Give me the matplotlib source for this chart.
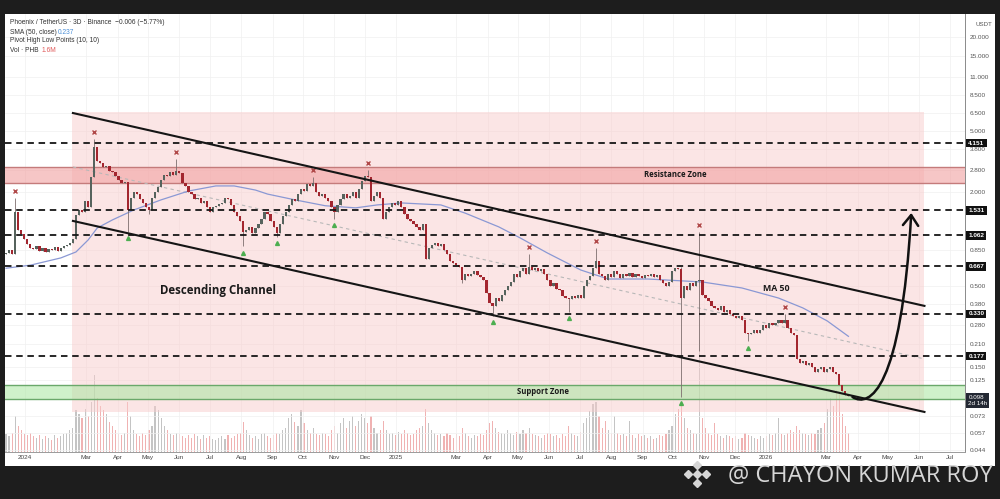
import matplotlib
matplotlib.use("Agg")
import matplotlib.pyplot as plt
import matplotlib.dates as mdates
import matplotlib.ticker as mticker
import numpy as np
import pandas as pd
from matplotlib.patches import FancyArrowPatch, Rectangle
from matplotlib.path import Path
from matplotlib.lines import Line2D
from matplotlib.transforms import blended_transform_factory, offset_copy

# ---------------- data ----------------
start_date = "2023-12-13"          # first 3D candle
first_open = 0.80

closes_a = [0.82, 0.85, 0.80, 1.50, 1.15, 1.08, 1.00, 0.93, 0.88, 0.86,
            0.90, 0.84, 0.88, 0.83, 0.87, 0.85, 0.89, 0.84, 0.88, 0.90,
            0.92, 0.95, 1.00, 1.42, 1.55, 1.50, 1.75, 1.62, 2.50, 3.90,
            3.20, 3.10, 2.90, 2.95, 2.75, 2.70, 2.55, 2.40, 2.30, 2.32]
closes_b = [1.55, 1.85, 2.00, 1.95, 1.80, 1.70, 1.60, 1.55, 1.85, 2.00,
            2.15, 2.40, 2.60, 2.55, 2.70, 2.60, 2.75, 2.65, 2.30, 2.20,
            2.00, 1.95, 1.80, 1.85, 1.70, 1.75, 1.60, 1.50, 1.62, 1.64,
            1.68, 1.72, 1.85, 1.80, 1.65, 1.50, 1.40, 1.30, 1.12, 1.15]
closes_c = [1.20, 1.10, 1.18, 1.25, 1.35, 1.50, 1.45, 1.30, 1.20, 1.10,
            1.25, 1.40, 1.50, 1.65, 1.80, 1.75, 1.95, 2.10, 2.05, 2.25,
            2.20, 2.30, 2.00, 1.90, 1.95, 1.85, 1.75, 1.60, 1.50, 1.65,
            1.80, 1.95, 1.85, 1.90, 2.00, 1.85, 2.10, 2.35, 2.55, 2.50]
closes_d = [1.75, 1.90, 2.00, 1.85, 1.35, 1.50, 1.60, 1.70, 1.65, 1.75,
            1.60, 1.45, 1.35, 1.30, 1.25, 1.20, 1.15, 1.25, 0.75, 0.88,
            0.92, 0.95, 0.90, 0.93, 0.85, 0.80, 0.72, 0.70, 0.68, 0.66,
            0.55, 0.60, 0.58, 0.60, 0.62, 0.59, 0.57, 0.55, 0.45, 0.39]
closes_e = [0.37, 0.42, 0.40, 0.44, 0.47, 0.50, 0.53, 0.60, 0.57, 0.62,
            0.65, 0.60, 0.66, 0.63, 0.65, 0.62, 0.64, 0.60, 0.55, 0.50,
            0.52, 0.48, 0.47, 0.43, 0.42, 0.41, 0.43, 0.42, 0.44, 0.42,
            0.50, 0.55, 0.58, 0.65, 0.72, 0.60, 0.58, 0.55, 0.60, 0.57]
closes_f = [0.62, 0.60, 0.56, 0.60, 0.58, 0.61, 0.57, 0.60, 0.58, 0.56,
            0.59, 0.58, 0.60, 0.57, 0.59, 0.55, 0.52, 0.50, 0.53, 0.62,
            0.65, 0.64, 0.42, 0.50, 0.47, 0.52, 0.50, 0.54, 0.55, 0.44,
            0.42, 0.40, 0.37, 0.36, 0.35, 0.37, 0.34, 0.35, 0.33, 0.32]
closes_g = [0.31, 0.32, 0.30, 0.25, 0.245, 0.25, 0.26, 0.25, 0.26, 0.28,
            0.27, 0.29, 0.28, 0.29, 0.30, 0.29, 0.30, 0.27, 0.25, 0.24,
            0.17, 0.16, 0.165, 0.155, 0.16, 0.15, 0.14, 0.145, 0.15, 0.14,
            0.145, 0.15, 0.14, 0.135, 0.115, 0.105, 0.10, 0.098]

wick_high_idx = [3, 29, 56, 101, 119, 172, 194, 222, 228, 256]
wick_high_val = [1.85, 4.40, 3.30, 2.50, 2.80, 0.80, 0.88, 0.66, 1.12, 0.33]
wick_low_idx = [40, 47, 78, 89, 108, 150, 160, 185, 222, 228, 244]
wick_low_val = [1.12, 1.45, 0.90, 1.04, 1.35, 0.52, 0.32, 0.34, 0.097, 0.19, 0.22]

pivot_high_idx = [3, 29, 56, 101, 119, 172, 194, 228, 256]
pivot_low_idx = [40, 78, 89, 108, 160, 185, 222, 244]

ma_idx = [0, 8, 18, 23, 27, 30, 35, 42, 51, 60, 69, 75, 82, 86, 95, 105, 115,
          122, 130, 143, 151, 162, 169, 178, 189, 198, 211, 217, 229, 242,
          254, 262, 270, 277]
ma_val = [0.65, 0.68, 0.757, 0.827, 0.988, 1.18, 1.33, 1.54, 1.79, 2.04, 2.20,
          2.20, 2.07, 1.95, 1.79, 1.64, 1.59, 1.66, 1.71, 1.66, 1.47, 1.20,
          1.02, 0.815, 0.633, 0.554, 0.554, 0.546, 0.530, 0.485, 0.418,
          0.361, 0.298, 0.237]

vol_a = [1.5, 1.3, 1.6, 3.0, 2.2, 1.8, 1.5, 1.4, 1.6, 1.3,
         1.2, 1.4, 1.1, 1.3, 1.2, 1.0, 1.4, 1.2, 1.3, 1.5,
         1.6, 1.8, 2.0, 3.5, 3.2, 2.8, 3.6, 3.0, 4.2, 6.4,
         4.5, 3.8, 3.5, 3.2, 2.5, 2.2, 1.8, 1.5, 1.4, 1.6]
vol_b = [4.2, 3.0, 1.8, 1.5, 1.3, 1.6, 1.4, 1.8, 2.2, 3.8,
         3.5, 2.8, 2.2, 1.8, 1.5, 1.4, 1.6, 1.5, 1.3, 1.2,
         1.4, 1.2, 1.5, 1.3, 1.1, 1.4, 1.2, 1.3, 1.1, 1.0,
         1.2, 1.3, 1.1, 1.4, 1.2, 1.3, 1.5, 1.6, 2.5, 1.8]
vol_c = [1.4, 1.2, 1.3, 1.1, 1.5, 1.6, 1.3, 1.2, 1.4, 1.6,
         1.5, 1.8, 2.0, 2.8, 3.2, 2.5, 2.2, 3.5, 2.4, 1.8,
         1.6, 2.0, 1.5, 1.4, 1.6, 1.5, 1.3, 1.8, 2.2, 1.6,
         2.4, 2.8, 2.0, 2.6, 3.0, 2.2, 2.6, 3.2, 2.8, 2.4]
vol_d = [3.0, 2.0, 1.6, 1.8, 2.6, 1.8, 1.5, 1.6, 1.4, 1.7,
         1.5, 1.8, 1.6, 1.4, 1.5, 1.8, 2.0, 2.2, 3.6, 2.4,
         1.8, 1.6, 1.4, 1.5, 1.3, 1.6, 1.4, 1.2, 1.5, 1.3,
         2.0, 1.6, 1.3, 1.2, 1.4, 1.3, 1.5, 1.4, 1.8, 2.4]
vol_e = [2.6, 2.0, 1.7, 1.6, 1.5, 1.8, 1.6, 1.4, 1.7, 1.5,
         1.8, 1.6, 2.0, 1.5, 1.4, 1.3, 1.2, 1.4, 1.6, 1.5,
         1.3, 1.4, 1.2, 1.5, 1.3, 2.2, 1.6, 1.4, 1.3, 1.7,
         2.4, 2.8, 3.4, 4.0, 4.2, 3.0, 2.0, 2.6, 1.8, 1.6]
vol_f = [3.0, 1.6, 1.4, 1.5, 1.3, 2.6, 1.4, 1.2, 1.5, 1.3,
         1.4, 1.2, 1.3, 1.1, 1.2, 1.4, 1.3, 1.5, 1.8, 2.2,
         3.2, 3.6, 4.2, 2.8, 2.0, 1.8, 1.6, 1.5, 9.3, 2.8,
         2.0, 1.6, 1.4, 2.4, 1.5, 1.3, 1.2, 1.4, 1.3, 1.2]
vol_g = [1.3, 1.1, 1.2, 1.6, 1.4, 1.3, 1.2, 1.1, 1.3, 1.2,
         1.3, 1.5, 1.4, 1.6, 2.8, 1.5, 1.4, 1.6, 1.8, 1.7,
         2.2, 1.8, 1.6, 1.5, 1.4, 1.6, 1.5, 1.8, 2.0, 2.4,
         3.6, 4.5, 3.8, 5.2, 4.8, 3.2, 2.2, 1.6]

level_values = [4.151, 1.531, 1.062, 0.667, 0.330, 0.177]
last_price = 0.098
y_tick_values = [20.0, 15.0, 11.0, 8.5, 6.5, 5.0, 3.8, 2.8, 2.0, 0.85, 0.5,
                 0.38, 0.28, 0.21, 0.15, 0.125, 0.073, 0.057, 0.044]
x_tick_dates = ["2024-01-01", "2024-03-01", "2024-04-01", "2024-05-01",
                "2024-06-01", "2024-07-01", "2024-08-01", "2024-09-01",
                "2024-10-01", "2024-11-01", "2024-12-01", "2025-01-01",
                "2025-03-01", "2025-04-01", "2025-05-01", "2025-06-01",
                "2025-07-01", "2025-08-01", "2025-09-01", "2025-10-01",
                "2025-11-01", "2025-12-01", "2026-01-01", "2026-03-01",
                "2026-04-01", "2026-05-01", "2026-06-01", "2026-07-01"]
x_tick_labels = ["2024", "Mar", "Apr", "May", "Jun", "Jul", "Aug", "Sep",
                 "Oct", "Nov", "Dec", "2025", "Mar", "Apr", "May", "Jun",
                 "Jul", "Aug", "Sep", "Oct", "Nov", "Dec", "2026", "Mar",
                 "Apr", "May", "Jun", "Jul"]

resistance_zone = (2.30, 2.91)
support_zone = (0.0937, 0.1153)
channel_dates = ["2024-02-17", "2026-06-06"]
channel_upper = [6.48, 0.372]
channel_lower = [1.31, 0.0773]
channel_box_dates = ["2024-02-16", "2026-06-06"]
channel_box_prices = (0.0773, 6.55)
arrow_dates = ["2026-03-27", "2026-04-13", "2026-05-14", "2026-05-24"]
arrow_prices = [0.0965, 0.082, 0.107, 1.474]

# ---------------- derived arrays ----------------
closes = np.array(closes_a + closes_b + closes_c + closes_d + closes_e + closes_f + closes_g)
vols = np.array(vol_a + vol_b + vol_c + vol_d + vol_e + vol_f + vol_g)
n = len(closes)
opens = np.concatenate([[first_open], closes[:-1]])
highs = np.maximum(opens, closes)
lows = np.minimum(opens, closes)
for i, v in zip(wick_high_idx, wick_high_val):
    highs[i] = max(highs[i], v)
for i, v in zip(wick_low_idx, wick_low_val):
    lows[i] = min(lows[i], v)
dates = pd.date_range(start_date, periods=n, freq="3D")
xd = mdates.date2num(dates)
up = closes >= opens

def dn(s):
    return mdates.date2num(pd.Timestamp(s))

# ---------------- figure ----------------
W, H = 1000, 499
fig = plt.figure(figsize=(W / 100, H / 100), dpi=100, facecolor="#1d1d1d")
fig.patches.append(Rectangle((5 / W, 33 / H), 990 / W, 452 / H, transform=fig.transFigure,
                             facecolor="white", edgecolor="none", zorder=0))

rect = [5 / W, 47 / H, 960 / W, 438 / H]
ax_vol = fig.add_axes(rect, zorder=1)
ax = fig.add_axes(rect, zorder=2)
ax_vol.patch.set_visible(False)
ax.patch.set_visible(False)

xlim = (dn("2023-12-12"), dn("2026-07-16"))

# volume
ax_vol.bar(xd, vols, width=1.1, color=np.where(up, "#c4c4c4", "#f0b2b2"), linewidth=0)
ax_vol.set_xlim(*xlim)
ax_vol.set_ylim(0, 36.5)
ax_vol.axis("off")

ax.set_yscale("log")
ax.set_xlim(*xlim)
ax.set_ylim(0.0427, 28.1)

# channel shading box
ax.fill_between([dn(channel_box_dates[0]), dn(channel_box_dates[1])],
                channel_box_prices[0], channel_box_prices[1],
                color="#f8cccc", alpha=0.5, linewidth=0, zorder=1)
# zones
ax.axhspan(*resistance_zone, facecolor="#f2a3a3", alpha=0.62, edgecolor="none", zorder=1.5)
for v in resistance_zone:
    ax.axhline(v, color="#c47b7b", lw=1.0, zorder=1.6)
ax.axhspan(*support_zone, facecolor="#a8e6a0", alpha=0.55, edgecolor="none", zorder=1.5)
for v in support_zone:
    ax.axhline(v, color="#6aa86a", lw=1.0, zorder=1.6)

# channel midline
cd = [dn(d) for d in channel_dates]
mid = [np.sqrt(a * b) for a, b in zip(channel_upper, channel_lower)]
ax.plot(cd, mid, color="#b8b8b8", lw=0.8, dashes=(3, 3), zorder=2)

# MA 50
ax.plot(xd[ma_idx], ma_val, color="#8a98d4", lw=0.9, zorder=3)

# candles
col = np.where(up, "#56635d", "#a3262f")
ax.vlines(xd, lows, highs, color="#7d6e6e", lw=0.6, zorder=3.5)
body_h = np.maximum(np.abs(closes - opens), closes * 0.006)
ax.bar(xd, body_h, bottom=np.minimum(opens, closes), width=2.2, color=col,
       linewidth=0, zorder=4)

# pivot markers
tr_up = offset_copy(ax.transData, fig=fig, x=0, y=5, units="points")
tr_dn = offset_copy(ax.transData, fig=fig, x=0, y=-4.5, units="points")
ax.plot(xd[pivot_high_idx], highs[pivot_high_idx], linestyle="none", marker="x",
        ms=3.0, mew=1.0, color="#b04848", transform=tr_up, zorder=5)
ax.plot(xd[pivot_low_idx], lows[pivot_low_idx], linestyle="none", marker="^",
        ms=2.8, color="#4cae50", transform=tr_dn, zorder=5)

# level lines
for v in level_values:
    ax.axhline(v, color="#161616", lw=1.3, dashes=(3.6, 2.6), zorder=5)

# channel lines
ax.plot(cd, channel_upper, color="#151515", lw=1.5, zorder=5)
ax.plot(cd, channel_lower, color="#151515", lw=1.5, zorder=5)

# curved arrow
verts = [(dn(d), p) for d, p in zip(arrow_dates, arrow_prices)]
arrow = FancyArrowPatch(path=Path(verts, [Path.MOVETO, Path.CURVE4, Path.CURVE4, Path.CURVE4]),
                        arrowstyle="->,head_length=0.75,head_width=0.55", mutation_scale=10,
                        lw=1.8, color="#111111", zorder=6)
ax.add_patch(arrow)

# text labels
lab_font = "Open Sans"
ax.text(dn("2024-07-09"), 0.464, "Descending Channel", ha="center", va="center",
        fontsize=8.3, fontweight="bold", family=lab_font, color="#1a1a1a", zorder=6)
ax.text(dn("2026-01-11"), 0.478, "MA 50", ha="center", va="center",
        fontsize=6.3, fontweight="bold", family=lab_font, color="#1a1a1a", zorder=6)
ax.text(dn("2025-10-03"), np.sqrt(resistance_zone[0] * resistance_zone[1]), "Resistance Zone",
        ha="center", va="center", fontsize=5.6, fontweight="bold", family=lab_font,
        color="#1a1a1a", zorder=6)
ax.text(dn("2025-05-26"), np.sqrt(support_zone[0] * support_zone[1]), "Support Zone",
        ha="center", va="center", fontsize=5.6, fontweight="bold", family=lab_font,
        color="#1a1a1a", zorder=6)

# axes styling
small = "Liberation Sans"
ax.yaxis.tick_right()
ax.set_yticks(y_tick_values)
ax.set_yticklabels([f"{v:.3f}" for v in y_tick_values])
ax.yaxis.set_minor_locator(mticker.NullLocator())
ax.set_xticks([dn(d) for d in x_tick_dates])
ax.set_xticklabels(x_tick_labels)
ax.xaxis.set_minor_locator(mticker.NullLocator())
ax.tick_params(axis="y", length=0, pad=3.5, labelsize=4.6, labelcolor="#555555")
ax.tick_params(axis="x", length=0, pad=2.5, labelsize=4.6, labelcolor="#444444")
for lbl in ax.get_xticklabels() + ax.get_yticklabels():
    lbl.set_family(small)
ax.grid(True, color="#f0f0f0", lw=0.5)
ax.set_axisbelow(True)
for s in ["top", "left"]:
    ax.spines[s].set_visible(False)
ax.spines["bottom"].set_color("#9a9a9a")
ax.spines["bottom"].set_linewidth(0.7)
ax.spines["right"].set_color("#8a8a8a")
ax.spines["right"].set_linewidth(0.7)

bt = blended_transform_factory(ax.transAxes, ax.transData)
for v in level_values:
    ax.text(1.0035, v, f"{v:.3f}", transform=bt, ha="left", va="center", fontsize=4.6,
            fontweight="bold", color="white", family=small, zorder=7, clip_on=False,
            bbox=dict(boxstyle="square,pad=0.3", fc="#111111", ec="none"))
ax.text(1.0035, 0.0915, f"{last_price:.3f}\n2d 14h", transform=bt, ha="left", va="center",
        fontsize=4.5, color="white", family=small, zorder=7, clip_on=False, linespacing=1.3,
        bbox=dict(boxstyle="square,pad=0.3", fc="#232833", ec="none"))
ax.text(1.011, 1 - 10 / 438, "USDT", transform=ax.transAxes, ha="left", va="center",
        fontsize=4.4, color="#555555", family=small, clip_on=False)

# legend text (top-left)
lx = 10 / W
fig.text(lx, 1 - 23 / H, "Phoenix / TetherUS \u00b7 3D \u00b7 Binance  \u22120.006 (\u22125.77%)",
         fontsize=4.8, color="#333333", family=small, va="center")
fig.text(lx, 1 - 32 / H, "SMA (50, close)", fontsize=4.8, color="#333333", family=small, va="center")
fig.text(58 / W, 1 - 32 / H, "0.237", fontsize=4.8, color="#4a8fd8", family=small, va="center")
fig.text(lx, 1 - 41 / H, "Pivot High Low Points (10, 10)", fontsize=4.8, color="#333333",
         family=small, va="center")
fig.text(lx, 1 - 50 / H, "Vol \u00b7 PHB", fontsize=4.8, color="#333333", family=small, va="center")
fig.text(42 / W, 1 - 50 / H, "1.6M", fontsize=4.8, color="#e05a5a", family=small, va="center")

# watermark
fig.text(993 / W, (H - 482) / H, "@ CHAYON KUMAR ROY", ha="right", va="baseline",
         fontsize=17, color="#d6d6d6", family="Open Sans")
cx, cy = 697 / W, (H - 474) / H
for dx, dy in [(0, 0), (-9, 0), (9, 0), (0, 9), (0, -9)]:
    fig.add_artist(Line2D([cx + dx / W], [cy + dy / H], transform=fig.transFigure,
                          marker="D", ms=4.0, color="#d6d6d6", linestyle="none"))

fig.savefig("out.png", dpi=100, facecolor=fig.get_facecolor())
